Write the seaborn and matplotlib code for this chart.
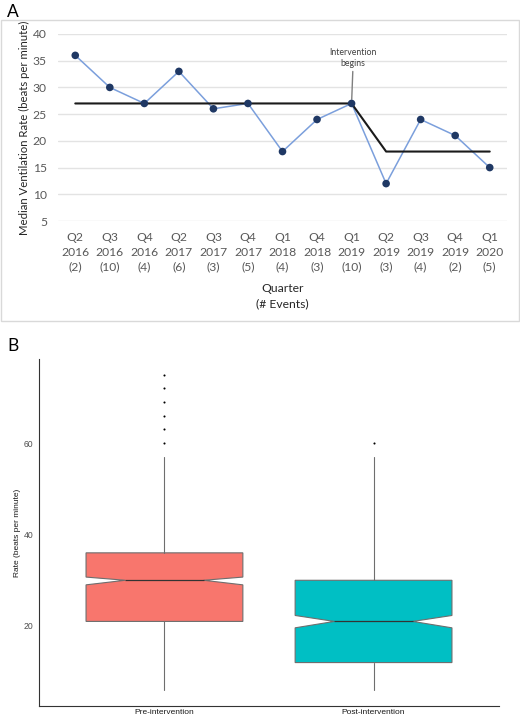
import matplotlib
matplotlib.use('Agg')
import matplotlib.pyplot as plt
import seaborn as sns
import pandas as pd
from matplotlib.patches import Rectangle

# Panel A: median ventilation rate per quarter
quarters = ['Q2\n2016\n(2)', 'Q3\n2016\n(10)', 'Q4\n2016\n(4)', 'Q2\n2017\n(6)',
            'Q3\n2017\n(3)', 'Q4\n2017\n(5)', 'Q1\n2018\n(4)', 'Q4\n2018\n(3)',
            'Q1\n2019\n(10)', 'Q2\n2019\n(3)', 'Q3\n2019\n(4)', 'Q4\n2019\n(2)',
            'Q1\n2020\n(5)']
median_rate = [36, 30, 27, 33, 26, 27, 18, 24, 27, 12, 24, 21, 15]
center_line = [27, 27, 27, 27, 27, 27, 27, 27, 27, 18, 18, 18, 18]
intervention_idx = 8

# Panel B: box summary per period
groups = ['Pre-intervention', 'Post-intervention']
box_q1 = [21, 12]
box_med = [30, 21]
box_q3 = [36, 30]
box_lo = [6, 6]
box_hi = [57, 57]
notch_lo = [29.0, 19.6]
notch_hi = [30.7, 22.3]
outliers = [[60, 63, 66, 69, 72, 75], [60]]
box_colors = ['#F8766D', '#00BFC4']

sns.set_theme(style='white')
plt.rcParams['font.family'] = ['Lato', 'DejaVu Sans']

fig = plt.figure(figsize=(5.2, 7.19), dpi=100)
W, H = 520, 719


def px_axes(left, top, right, bottom):
    return fig.add_axes([left / W, 1 - bottom / H, (right - left) / W, (bottom - top) / H])


# ---------- Panel A ----------
fig.patches.append(Rectangle((0.5 / W, 1 - 320.5 / H), 518.5 / W, 300.5 / H,
                             transform=fig.transFigure, fill=False,
                             edgecolor='#d9d9d9', linewidth=1))
ax1 = px_axes(58, 34, 507, 221)
df_a = pd.DataFrame({'pos': range(len(quarters)), 'rate': median_rate, 'center': center_line})
sns.lineplot(data=df_a, x='pos', y='center', ax=ax1, color='#1a1a1a', linewidth=1.5, zorder=3)
sns.lineplot(data=df_a, x='pos', y='rate', ax=ax1, color='#7b9fdc', linewidth=1.1, zorder=2)
sns.scatterplot(data=df_a, x='pos', y='rate', ax=ax1, color='#1f3864', s=30,
                edgecolor='none', zorder=4)
ax1.set_xlim(-0.5, len(quarters) - 0.5)
ax1.set_ylim(5, 40)
ax1.set_yticks(range(5, 41, 5))
ax1.set_xticks(range(len(quarters)))
ax1.set_xticklabels(quarters, linespacing=1.4)
ax1.grid(axis='y', color='#e3e3e3', linewidth=1)
ax1.set_axisbelow(True)
for s in ax1.spines.values():
    s.set_visible(False)
ax1.tick_params(axis='both', length=0, labelsize=8.7, colors='#595959', pad=8)
ax1.tick_params(axis='y', pad=8)
ax1.set_xlabel('Quarter\n(# Events)', fontsize=8.7, color='#262626', labelpad=8, linespacing=1.45)
ax1.set_ylabel('Median Ventilation Rate (beats per minute)', fontsize=8.2,
               color='#262626', labelpad=2)
ax1.annotate('Intervention\nbegins', xy=(intervention_idx, median_rate[intervention_idx]),
             xytext=(intervention_idx + 0.05, 33.6), ha='center', va='bottom',
             fontsize=6.3, color='#404040', linespacing=1.35,
             arrowprops=dict(arrowstyle='-', color='#7f7f7f', linewidth=1, shrinkA=0, shrinkB=3))
fig.text(7 / W, 1 - 12 / H, 'A', fontsize=12.5, va='center', ha='left', color='black')

# ---------- Panel B ----------
ax2 = px_axes(39, 359, 499, 706)
stats = []
for i, g in enumerate(groups):
    stats.append({'label': g, 'q1': box_q1[i], 'med': box_med[i], 'q3': box_q3[i],
                  'whislo': box_lo[i], 'whishi': box_hi[i], 'fliers': outliers[i],
                  'cilo': notch_lo[i], 'cihi': notch_hi[i]})
bp = ax2.bxp(stats, positions=[1, 2], widths=0.75, shownotches=True, showcaps=False,
             patch_artist=True,
             boxprops=dict(edgecolor='#6e6e6e', linewidth=0.8),
             whiskerprops=dict(color='#6e6e6e', linewidth=0.8),
             medianprops=dict(color='#333333', linewidth=0.9),
             flierprops=dict(marker='o', markersize=1.5, markerfacecolor='black',
                             markeredgewidth=0, linestyle='none'))
for patch, c in zip(bp['boxes'], box_colors):
    patch.set_facecolor(c)
ax2.set_xlim(0.4, 2.6)
ax2.set_ylim(2.5, 78.4)
ax2.set_yticks([20, 40, 60])
sns.despine(ax=ax2)
for side in ['left', 'bottom']:
    ax2.spines[side].set_color('#333333')
    ax2.spines[side].set_linewidth(0.8)
ax2.tick_params(axis='both', length=2.5, width=0.6, color='#333333', labelsize=6.2,
                labelcolor='#4d4d4d', pad=1.5, direction='out')
ax2.tick_params(axis='x', labelsize=6.0, labelcolor='#1a1a1a', length=1.5, pad=0.5)
for lbl in ax2.get_xticklabels() + ax2.get_yticklabels():
    lbl.set_fontfamily(['Liberation Sans', 'DejaVu Sans'])
ax2.set_ylabel('Rate (beats per minute)', fontsize=6.0, color='#1a1a1a', labelpad=2,
               fontfamily=['Liberation Sans', 'DejaVu Sans'])
ax2.set_xlabel('')
fig.text(7 / W, 1 - 346 / H, 'B', fontsize=12.5, va='center', ha='left', color='black')

fig.savefig('out.png', dpi=100)
